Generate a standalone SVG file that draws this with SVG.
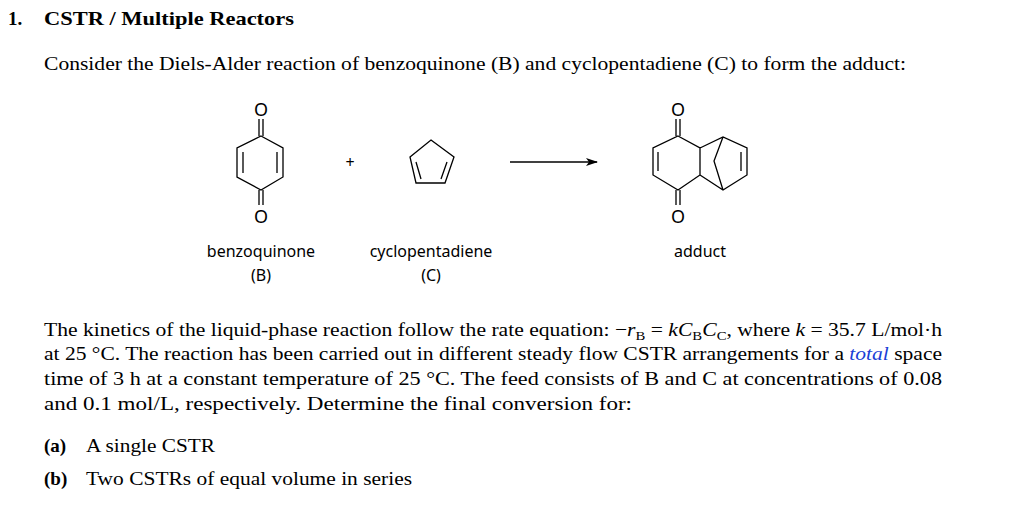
<svg xmlns="http://www.w3.org/2000/svg" width="1024" height="505" viewBox="0 0 1024 505">
<style>
.t{font-family:"Liberation Serif",serif;font-size:19px;fill:#000}
.b{font-weight:bold}
.s{font-family:"Noto Sans","DejaVu Sans",sans-serif;font-size:16px;fill:#000;text-anchor:middle}
.m{fill:none;stroke:#000;stroke-width:1.3}
.o{font-family:"Noto Sans","DejaVu Sans",sans-serif;font-size:18px;fill:#000;text-anchor:middle}
</style>
<defs><marker id="ah" markerWidth="12" markerHeight="8" refX="11" refY="4" orient="auto" markerUnits="userSpaceOnUse"><path d="M0,0 L12,4 L0,8 L3,4Z" fill="#000"/></marker></defs>
<rect width="1024" height="505" fill="#fff"/>
<text class="t b" x="8" y="25">1.</text>
<text class="t b" x="44" y="25" textLength="250" lengthAdjust="spacingAndGlyphs">CSTR / Multiple Reactors</text>
<text class="t" x="44" y="70" textLength="862" lengthAdjust="spacingAndGlyphs">Consider the Diels-Alder reaction of benzoquinone (B) and cyclopentadiene (C) to form the adduct:</text>
<g id="benzoquinone">
<text class="o" x="261" y="116">O</text>
<path class="m" d="M259,119 V136 M263,119 V136 M261,136 L283,148 V177 L261,190 L237,177 V148 Z M243,152 V173 M277,152 V173 M259,190 V205 M263,190 V205"/>
<text class="o" x="261" y="223">O</text>
<text class="s" x="261" y="257">benzoquinone</text>
<text class="s" x="261" y="281">(B)</text>
</g>
<text class="s" x="350" y="168">+</text>
<g id="cyclopentadiene">
<path class="m" d="M431,140 L454,157 L445,183 L416,183 L410,157 Z M416,162 L421,179 M447,162 L441,179"/>
<text class="s" x="431" y="257">cyclopentadiene</text>
<text class="s" x="431" y="281">(C)</text>
</g>
<g id="connectors"><line class="m" x1="510" y1="162" x2="597" y2="162" marker-end="url(#ah)"/></g>
<g id="adduct">
<text class="o" x="678" y="116">O</text>
<path class="m" d="M676,119 V136 M680,119 V136 M678,136 L700,148 V175 L678,190 L653,175 V148 Z M658,152 V171 M676,190 V205 M680,190 V205 M700,148 L723,137 L747,148 V175 L723,190 L700,175 M741,152 V171 M723,137 L714,161 L723,190"/>
<text class="o" x="678" y="223">O</text>
<text class="s" x="700" y="257">adduct</text>
</g>
<text class="t" x="44" y="336" textLength="898" lengthAdjust="spacingAndGlyphs">The kinetics of the liquid-phase reaction follow the rate equation: −<tspan font-style="italic">r</tspan><tspan font-size="13" dy="4">B</tspan><tspan dy="-4"> = </tspan><tspan font-style="italic">kC</tspan><tspan font-size="13" dy="4">B</tspan><tspan dy="-4" font-style="italic">C</tspan><tspan font-size="13" dy="4">C</tspan><tspan dy="-4">, where </tspan><tspan font-style="italic">k</tspan> = 35.7 L/mol·h</text>
<text class="t" x="44" y="360" textLength="898" lengthAdjust="spacingAndGlyphs">at 25 °C. The reaction has been carried out in different steady flow CSTR arrangements for a <tspan font-style="italic" fill="#1a3fd6">total</tspan> space</text>
<text class="t" x="44" y="385" textLength="898" lengthAdjust="spacingAndGlyphs">time of 3 h at a constant temperature of 25 °C. The feed consists of B and C at concentrations of 0.08</text>
<text class="t" x="44" y="410" textLength="588" lengthAdjust="spacingAndGlyphs">and 0.1 mol/L, respectively. Determine the final conversion for:</text>
<text class="t b" x="44" y="452">(a)</text><text class="t" x="86" y="452" textLength="129" lengthAdjust="spacingAndGlyphs">A single CSTR</text>
<text class="t b" x="44" y="485">(b)</text><text class="t" x="86" y="485" textLength="326" lengthAdjust="spacingAndGlyphs">Two CSTRs of equal volume in series</text>
</svg>
